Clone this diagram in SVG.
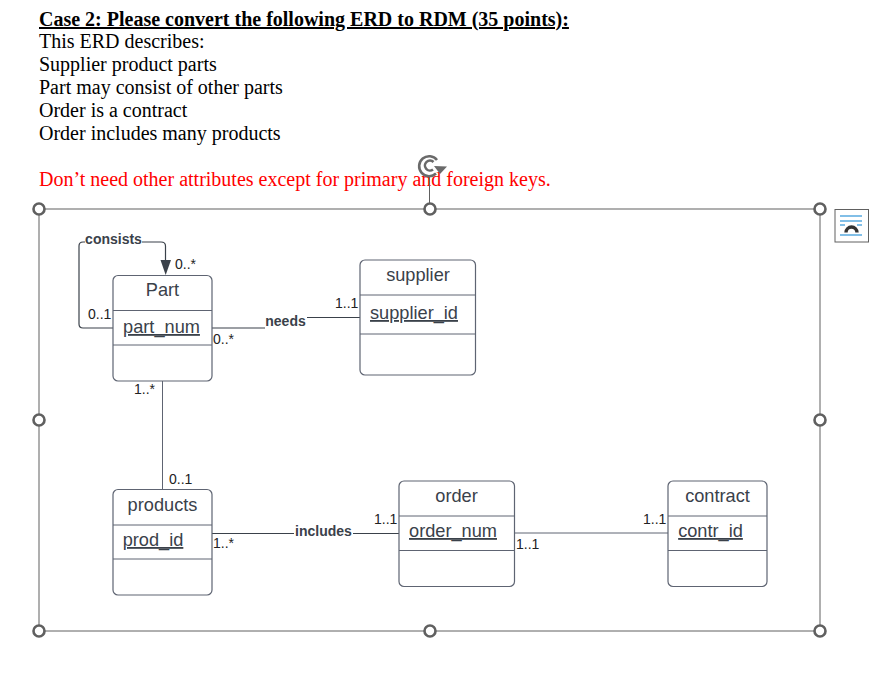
<svg xmlns="http://www.w3.org/2000/svg" width="883" height="676" viewBox="0 0 883 676">
<style>
.doc{font-family:"Liberation Serif","Times New Roman",serif;font-size:20px;fill:#000}
.n{fill:#fff;stroke:#5e6472;stroke-width:1.2}
.d{stroke:#5e6472;stroke-width:1;fill:none}
.t{font-family:"Liberation Sans",Arial,sans-serif;font-size:18.200px;fill:#3a414a;text-anchor:middle}
.k{text-decoration:underline}
.m{font-family:"Liberation Sans",Arial,sans-serif;font-size:14px;fill:#222}
.l{font-family:"Liberation Sans",Arial,sans-serif;font-size:14px;font-weight:bold;fill:#3a414a;text-anchor:middle}
.c{stroke:#3a414a;stroke-width:1.200;fill:none}
.f{stroke:#606060;stroke-width:1;fill:none}
.h{fill:#fff;stroke:#606060;stroke-width:2.600}
</style>
<g id="document-text">
<text class="doc" x="39" y="26" font-weight="bold" text-decoration="underline">Case 2: Please convert the following ERD to RDM (35 points):</text>
<text class="doc" x="39" y="48">This ERD describes:</text>
<text class="doc" x="39" y="71">Supplier product parts</text>
<text class="doc" x="39" y="94">Part may consist of other parts</text>
<text class="doc" x="39" y="117">Order is a contract</text>
<text class="doc" x="39" y="140">Order includes many products</text>
<text class="doc" x="39" y="186" style="fill:#f00">Don’t need other attributes except for primary and foreign keys.</text>
</g>
<g id="connectors">
<path class="c" d="M113 328H83Q79 328 79 324V246Q79 242 83 242H85M142 242H161Q165.500 242 165.500 246V260"/>
<path d="M160.500 260H171L165.700 275Z" fill="#3a414a"/>
<path class="c" d="M212 328H265M307 317.500H360"/>
<path class="d" d="M162.500 381V489"/>
<path class="c" d="M212 533.500H294M353 533.500H399"/>
<path class="d" d="M514 533H668"/>
<text class="l" x="113.500" y="244">consists</text>
<text class="l" x="285.500" y="326">needs</text>
<text class="l" x="323.500" y="536">includes</text>
<text class="m" x="175" y="269">0..*</text>
<text class="m" x="88" y="319">0..1</text>
<text class="m" x="213" y="344">0..*</text>
<text class="m" x="335" y="308">1..1</text>
<text class="m" x="134" y="394">1..*</text>
<text class="m" x="169" y="484">0..1</text>
<text class="m" x="213" y="548">1..*</text>
<text class="m" x="374" y="524">1..1</text>
<text class="m" x="516" y="549">1..1</text>
<text class="m" x="643" y="524">1..1</text>
</g>
<g id="Part"><rect class="n" x="113" y="275.500" width="99" height="105.500" rx="5"/><path class="d" d="M113 310.500H212M113 345H212"/><text class="t" x="162.500" y="296">Part</text><text class="t k" x="161.500" y="333">part_num</text></g>
<g id="supplier"><rect class="n" x="360" y="260" width="115.500" height="115" rx="5"/><path class="d" d="M360 295H475.500M360 334H475.500"/><text class="t" x="418" y="281">supplier</text><text class="t k" x="414" y="319">supplier_id</text></g>
<g id="products"><rect class="n" x="113" y="489.500" width="99" height="105.500" rx="5"/><path class="d" d="M113 525H212M113 559H212"/><text class="t" x="162.500" y="511">products</text><text class="t k" x="153" y="546">prod_id</text></g>
<g id="order"><rect class="n" x="399" y="481" width="115.500" height="105.500" rx="5"/><path class="d" d="M399 516H514.500M399 550.500H514.500"/><text class="t" x="456.500" y="502">order</text><text class="t k" x="453" y="537">order_num</text></g>
<g id="contract"><rect class="n" x="668" y="481" width="99" height="105.500" rx="5"/><path class="d" d="M668 516H767M668 550.500H767"/><text class="t" x="717.500" y="502">contract</text><text class="t k" x="710.500" y="537">contr_id</text></g>
<g id="selection-frame">
<rect class="f" x="39" y="209" width="781" height="422"/>
<path class="f" d="M429.500 209V176"/>
<path d="M436 173.500A10 10 0 1 1 437 160M433 169.500A5 5 0 1 1 433.500 162" fill="none" stroke="#6a6a6a" stroke-width="2.600"/>
<path d="M434 166L447 166.500L440 174Z" fill="#6a6a6a"/>
<circle class="h" cx="39" cy="209" r="5.500"/><circle class="h" cx="430" cy="209" r="5.500"/><circle class="h" cx="820" cy="209" r="5.500"/>
<circle class="h" cx="39" cy="420" r="5.500"/><circle class="h" cx="820" cy="420" r="5.500"/>
<circle class="h" cx="39" cy="631" r="5.500"/><circle class="h" cx="430" cy="631" r="5.500"/><circle class="h" cx="820" cy="631" r="5.500"/>
</g>
<g id="layout-icon">
<rect x="835" y="209.500" width="33.500" height="32.500" fill="#fff" stroke="#606060" stroke-width="1"/>
<path d="M840 216H862M840 221H862M840 225H845M857 225H862M840 235H862" stroke="#5aaae0" stroke-width="1.500" fill="none"/>
<path d="M846 232.500A5 5 0 0 1 857 232.500" fill="none" stroke="#333" stroke-width="3.400"/>
</g>
</svg>
